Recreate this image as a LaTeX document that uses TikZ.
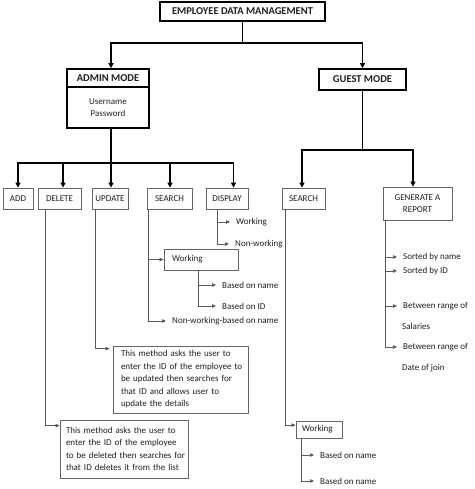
\documentclass[tikz,border=0pt]{standalone}
\usepackage{fontspec}
\setmainfont{Carlito}
\usetikzlibrary{arrows.meta}
\begin{document}
\begin{tikzpicture}[x=1pt,y=-1pt,
 every node/.style={font=\fontsize{9}{12.5}\selectfont, text=black!88},
 bigbox/.style={draw=black, line width=1.7pt, inner sep=0pt, font=\fontsize{10.5}{12.5}\selectfont\bfseries},
 smallbox/.style={draw=black!60, line width=0.8pt, inner sep=0pt},
 descbox/.style={draw=black!60, line width=0.8pt, align=left, inner ysep=0pt},
 lbl/.style={anchor=west, inner xsep=6pt, inner ysep=1pt},
 trunk/.style={line width=1.7pt, draw=black},
 trunkarrow/.style={trunk, -{Triangle[length=5pt,width=5pt]}},
 branch/.style={line width=0.7pt, draw=black!65, -{Triangle[length=4pt,width=3.5pt]}}]
\path[fill=white,use as bounding box] (0,0) rectangle (474,489);
% top level
\node[bigbox, minimum width=165pt, minimum height=19pt] (edm) at (242.5,11.5) {EMPLOYEE DATA MANAGEMENT};
\node[bigbox, minimum width=82pt, minimum height=18pt] (adminhead) at (108,78) {ADMIN MODE};
\node[bigbox, font=\fontsize{9}{12}\selectfont, align=center, minimum width=82pt, minimum height=41pt] (admincred) at (108,107.5) {Username\\Password};
\node[bigbox, minimum width=87pt, minimum height=21pt] (guest) at (362.5,79.5) {GUEST MODE};
% admin children
\node[smallbox, minimum width=30pt, minimum height=21pt] (add) at (18,198.5) {ADD};
\node[smallbox, minimum width=43pt, minimum height=21pt] (delete) at (59.5,198.5) {DELETE};
\node[smallbox, minimum width=36pt, minimum height=21pt] (update) at (110,198.5) {UPDATE};
\node[smallbox, minimum width=45pt, minimum height=21pt] (search) at (169.5,198.5) {SEARCH};
\node[smallbox, minimum width=42pt, minimum height=21pt] (display) at (227,198.5) {DISPLAY};
% guest children
\node[smallbox, minimum width=43pt, minimum height=21pt] (gsearch) at (303.5,198.5) {SEARCH};
\node[smallbox, align=center, font=\fontsize{9}{12}\selectfont, minimum width=69pt, minimum height=33pt] (greport) at (417.5,203.5) {GENERATE A\\REPORT};
% display labels
\node[lbl] (dwork) at (230,222) {Working};
\node[lbl] (dnonw) at (229,244) {Non-working};
% search children
\node[smallbox, minimum width=74pt, minimum height=21pt, text width=58pt, align=left] (swork) at (201,259.5) {Working};
\node[lbl] (sbn) at (216,285) {Based on name};
\node[lbl] (sbid) at (216,306) {Based on ID};
\node[lbl] (snw) at (166,321) {Non-working-based on name};
% update / delete descriptions
\node[descbox, minimum width=135pt, minimum height=67pt, text width=119pt, inner xsep=8pt] (udesc) at (180.5,379.5)
 {\mbox{This method asks the user to}\\\mbox{enter the ID of the employee to}\\\mbox{be updated then searches for}\\\mbox{that ID and allows user to}\\\mbox{update the details}};
\node[descbox, minimum width=128pt, minimum height=58pt, text width=116pt, inner xsep=6pt] (ddesc) at (124,449)
 {\mbox{This method asks the user to}\\\mbox{enter the ID of the employee}\\\mbox{to be deleted then searches for}\\\mbox{that ID deletes it from the list}};
% guest search children
\node[smallbox, minimum width=46pt, minimum height=17pt, text width=34pt, align=left] (gwork) at (319,429.5) {Working};
\node[lbl] (gbn1) at (314,455) {Based on name};
\node[lbl] (gbn2) at (314,481) {Based on name};
% report children
\node[lbl] (rs1) at (397,257) {Sorted by name};
\node[lbl] (rs2) at (397,271) {Sorted by ID};
\node[lbl] (rs3) at (397,306) {Between range of};
\node[lbl] (rs4) at (396,326) {Salaries};
\node[lbl] (rs5) at (397,347) {Between range of};
\node[lbl] (rs6) at (396,368) {Date of join};
% trunk connectors
\coordinate (j1) at (242.5,43);
\draw[trunk] (edm.south) -- (j1);
\draw[trunkarrow] (j1) -| ([xshift=3pt]adminhead.north);
\draw[trunkarrow] (j1) -| (guest.north);
\coordinate (j2) at (111,163);
\draw[trunk] ([xshift=3pt]admincred.south) -- (j2);
\draw[trunkarrow] (j2) -| (add.north);
\draw[trunkarrow] (j2) -| ([xshift=3.5pt]delete.north);
\draw[trunkarrow] (j2) -| ([xshift=1pt]update.north);
\draw[trunkarrow] (j2) -| ([xshift=0.5pt]search.north);
\draw[trunkarrow] (j2) -| ([xshift=6.5pt]display.north);
\coordinate (j3) at (362.5,150);
\draw[trunk] (guest.south) -- (j3);
\draw[trunkarrow] (j3) -| ([xshift=-1.5pt]gsearch.north);
\draw[trunkarrow] (j3) -| ([xshift=-4.5pt]greport.north);
% branch connectors
\draw[branch] ([xshift=12pt]display.south west) |- (dwork.west);
\draw[branch] ([xshift=12pt]display.south west) |- (dnonw.west);
\draw[branch] ([xshift=2pt]search.south west) |- (swork.west);
\draw[branch] ([xshift=2pt]search.south west) |- (snw.west);
\draw[branch] ([xshift=35pt]swork.south west) |- (sbn.west);
\draw[branch] ([xshift=35pt]swork.south west) |- (sbid.west);
\draw[branch] ([xshift=4pt]update.south west) |- ([xshift=-3pt,yshift=-3pt]udesc.north west);
\draw[branch] ([xshift=7.5pt]delete.south west) |- ([yshift=-6pt]ddesc.north west);
\draw[branch] ([xshift=3.5pt]gsearch.south west) |- ([yshift=-4.5pt]gwork.north west);
\draw[branch] ([xshift=6pt]gwork.south west) |- (gbn1.west);
\draw[branch] ([xshift=6pt]gwork.south west) |- (gbn2.west);
\draw[branch] ([xshift=3pt]greport.south west) |- (rs1.west);
\draw[branch] ([xshift=3pt]greport.south west) |- (rs2.west);
\draw[branch] ([xshift=3pt]greport.south west) |- (rs3.west);
\draw[branch] ([xshift=3pt]greport.south west) |- (rs5.west);
\end{tikzpicture}
\end{document}
